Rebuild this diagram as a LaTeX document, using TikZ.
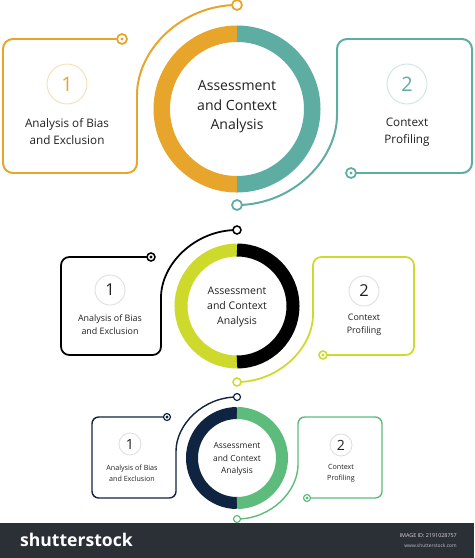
\documentclass[tikz,border=0pt]{standalone}
\usepackage{fontspec}
\setmainfont{Open Sans}
\usetikzlibrary{positioning}
\definecolor{amber}{HTML}{E8A52B}
\definecolor{teal}{HTML}{5DADA3}
\definecolor{lime}{HTML}{CDDA2C}
\definecolor{navy}{HTML}{0E2440}
\definecolor{leaf}{HTML}{5DBB7B}
\definecolor{ink}{HTML}{231F20}
\definecolor{band}{HTML}{2B2F36}

\begin{document}
\begin{tikzpicture}[
x=0.03cm, y=0.03cm,
hole/.style={circle, draw=#1, fill=white, line width=1.5pt, inner sep=0pt, minimum size=0.3cm},
dothole/.style={hole=#1, path picture={\fill[#1] (path picture bounding box.center) circle (1.3pt);}},
numring/.style={circle, draw=#1, fill=white, line width=0.8pt, inner sep=0pt, text=ink},
midtext/.style={align=center, text=ink},
boxtext/.style={align=center, text=ink}
]
\useasboundingbox (0,0) rectangle (474,-558);

%Nodes
\node[midtext, font=\fontsize{12}{16.6}\selectfont] (A1) at (237,-107) {Assessment\\and Context\\Analysis};
\node[midtext, font=\fontsize{9}{12.6}\selectfont]  (A2) at (237,-307) {Assessment\\and Context\\Analysis};
\node[midtext, font=\fontsize{7.2}{10.3}\selectfont] (A3) at (237,-459) {Assessment\\and Context\\Analysis};

\node[numring=amber!35, minimum size=1.2cm, text=amber, font=\fontsize{17}{17}\selectfont] (N1) at (67,-84) {1};
\node[numring=teal!30,  minimum size=1.2cm, text=teal,  font=\fontsize{17}{17}\selectfont] (N2) at (407,-84) {2};
\node[boxtext, font=\fontsize{10}{14.5}\selectfont] (L1) at (67,-132)  {Analysis of Bias\\and Exclusion};
\node[boxtext, font=\fontsize{10}{14.5}\selectfont] (L2) at (407,-132) {Context\\Profiling};

\node[numring=black!12, minimum size=0.9cm, font=\fontsize{14}{14}\selectfont] (N3) at (110,-290) {1};
\node[numring=black!12, minimum size=0.9cm, font=\fontsize{14}{14}\selectfont] (N4) at (364,-291) {2};
\node[boxtext, font=\fontsize{7.6}{11}\selectfont] (L3) at (110,-325) {Analysis of Bias\\and Exclusion};
\node[boxtext, font=\fontsize{7.6}{11}\selectfont] (L4) at (364,-325) {Context\\Profiling};

\node[numring=black!12, minimum size=0.66cm, font=\fontsize{12}{12}\selectfont] (N5) at (130,-444) {1};
\node[numring=black!12, minimum size=0.66cm, font=\fontsize{12}{12}\selectfont] (N6) at (341,-445) {2};
\node[boxtext, font=\fontsize{6.1}{9.4}\selectfont] (L5) at (132,-473) {Analysis of Bias\\and Exclusion};
\node[boxtext, font=\fontsize{6.1}{9.4}\selectfont] (L6) at (341,-473) {Context\\Profiling};

\coordinate (T1) at (237,-5);   \coordinate (B1) at (237,-205);
\coordinate (E1) at (122,-39);  \coordinate (E2) at (351,-173);
\coordinate (T2) at (237,-230); \coordinate (B2) at (237,-382);
\coordinate (E3) at (151,-257); \coordinate (E4) at (323,-355);
\coordinate (T3) at (237,-397); \coordinate (B3) at (237,-519);
\coordinate (E5) at (167,-417); \coordinate (E6) at (307,-498);

%Rings
\draw[amber, line width=0.495cm] (A1.center) ++(0,73.25) arc[start angle=90, end angle=270, radius=2.2575cm];
\draw[teal,  line width=0.495cm] (A1.center) ++(0,-77.25) arc[start angle=-90, end angle=90, radius=2.2575cm];
\draw[lime,  line width=0.39cm] (A2.center) ++(0,57) arc[start angle=90, end angle=270, radius=1.68cm];
\draw[black, line width=0.39cm] (A2.center) ++(0,-55) arc[start angle=-90, end angle=90, radius=1.68cm];
\draw[navy,  line width=0.36cm] (A3.center) ++(0,46) arc[start angle=90, end angle=270, radius=1.35cm];
\draw[leaf,  line width=0.36cm] (A3.center) ++(0,-44) arc[start angle=-90, end angle=90, radius=1.35cm];

%Lines
\draw[amber, line width=1.7pt, rounded corners=0.3cm] (T1) arc[start angle=90, end angle=180, radius=3cm] -- (137,-173) -- (3,-173) -- (3,-39) -- (E1);
\draw[teal,  line width=1.7pt, rounded corners=0.3cm] (B1) arc[start angle=270, end angle=360, radius=3cm] -- (337,-39) -- (472,-39) -- (472,-173) -- (E2);
\draw[black, line width=1.5pt, rounded corners=0.25cm] (T2) arc[start angle=90, end angle=180, radius=2.28cm] -- (161,-355) -- (61,-355) -- (61,-257) -- (E3);
\draw[lime,  line width=1.5pt, rounded corners=0.25cm] (B2) arc[start angle=270, end angle=360, radius=2.28cm] -- (313,-257) -- (414,-257) -- (414,-355) -- (E4);
\draw[navy,  line width=1.2pt, rounded corners=0.2cm] (T3) arc[start angle=90, end angle=180, radius=1.83cm] -- (176,-498) -- (92,-498) -- (92,-417) -- (E5);
\draw[leaf,  line width=1.2pt, rounded corners=0.2cm] (B3) arc[start angle=270, end angle=360, radius=1.83cm] -- (298,-417) -- (382,-417) -- (382,-498) -- (E6);

%Ends
\node[hole=amber] at (T1) {};
\node[hole=teal]  at (B1) {};
\node[dothole=amber] at (E1) {};
\node[dothole=teal]  at (E2) {};
\node[hole=black, minimum size=0.24cm, line width=1.3pt] at (T2) {};
\node[hole=lime,  minimum size=0.24cm, line width=1.3pt] at (B2) {};
\node[dothole=black, minimum size=0.24cm, line width=1.3pt] at (E3) {};
\node[dothole=lime,  minimum size=0.24cm, line width=1.3pt] at (E4) {};
\node[hole=navy, minimum size=0.21cm, line width=1pt] at (T3) {};
\node[hole=leaf, minimum size=0.21cm, line width=1pt] at (B3) {};
\node[dothole=navy, minimum size=0.21cm, line width=1pt] at (E5) {};
\node[dothole=leaf, minimum size=0.21cm, line width=1pt] at (E6) {};

%Banner
\fill[band] (0,-523) rectangle (474,-558);
\node[anchor=west, text=white, font=\bfseries\fontsize{15}{15}\selectfont] (S) at (16,-540) {shutterstock};
\node[anchor=east, text=white!80!band, font=\fontsize{4.6}{5}\selectfont, inner sep=0pt] (I) at (457,-536) {IMAGE ID: 2191028757};
\node[anchor=east, text=white!70!band, font=\fontsize{4.2}{5}\selectfont, inner sep=0pt] (W) at (457,-546) {www.shutterstock.com};
\end{tikzpicture}
\end{document}
